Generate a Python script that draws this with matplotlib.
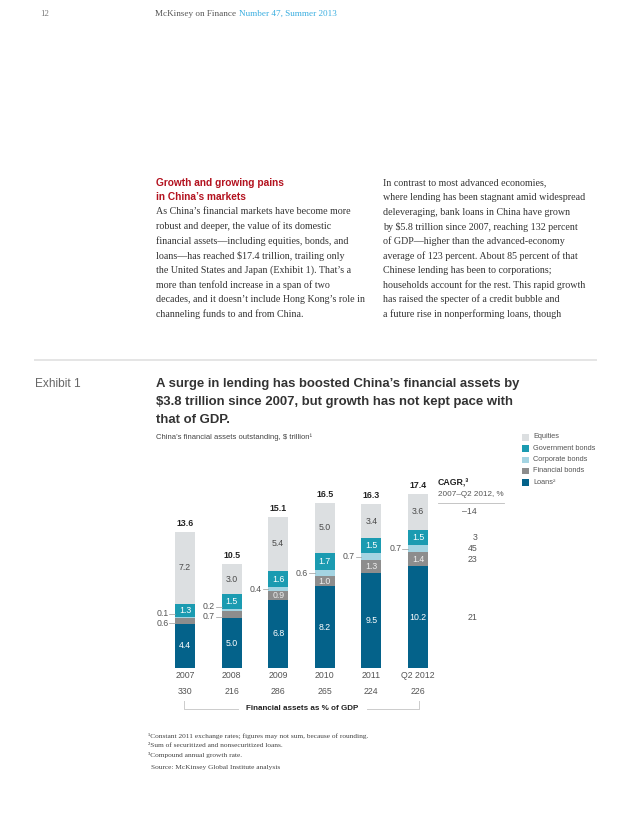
import matplotlib
matplotlib.use("Agg")
import matplotlib.pyplot as plt
from matplotlib.patches import Rectangle

# ---- data (from the exhibit) ----
years = ['2007', '2008', '2009', '2010', '2011', 'Q2 2012']
loans = [4.4, 5.0, 6.8, 8.2, 9.5, 10.2]
fin_bonds = [0.6, 0.7, 0.9, 1.0, 1.3, 1.4]
corp_bonds = [0.1, 0.2, 0.4, 0.6, 0.7, 0.7]
gov_bonds = [1.3, 1.5, 1.6, 1.7, 1.5, 1.5]
equities = [7.2, 3.0, 5.4, 5.0, 3.4, 3.6]
totals = [13.6, 10.5, 15.1, 16.5, 16.3, 17.4]
gdp_pct = [330, 216, 286, 265, 224, 226]
cagr = {'Equities': '–14', 'Government bonds': '3', 'Corporate bonds': '45',
        'Financial bonds': '23', 'Loans': '21'}

series_names = ['Loans', 'Financial bonds', 'Corporate bonds', 'Government bonds', 'Equities']
series_vals = [loans, fin_bonds, corp_bonds, gov_bonds, equities]
colors = {'Equities': '#dcdfe1', 'Government bonds': '#1b9bb1', 'Corporate bonds': '#a4d4e2',
          'Financial bonds': '#8d8d8d', 'Loans': '#04628a'}
txt_col = {'Equities': '#4a4a4a', 'Government bonds': 'white', 'Corporate bonds': '#4a4a4a',
           'Financial bonds': '#eeeeee', 'Loans': 'white'}

left_col = [
    "As China’s financial markets have become more",
    "robust and deeper, the value of its domestic",
    "financial assets—including equities, bonds, and",
    "loans—has reached $17.4 trillion, trailing only",
    "the United States and Japan (Exhibit 1). That’s a",
    "more than tenfold increase in a span of two",
    "decades, and it doesn’t include Hong Kong’s role in",
    "channeling funds to and from China.",
]
right_col = [
    "In contrast to most advanced economies,",
    "where lending has been stagnant amid widespread",
    "deleveraging, bank loans in China have grown",
    "by $5.8 trillion since 2007, reaching 132 percent",
    "of GDP—higher than the advanced-economy",
    "average of 123 percent. About 85 percent of that",
    "Chinese lending has been to corporations;",
    "households account for the rest. This rapid growth",
    "has raised the specter of a credit bubble and",
    "a future rise in nonperforming loans, though",
]
title_lines = [
    "A surge in lending has boosted China’s financial assets by",
    "$3.8 trillion since 2007, but growth has not kept pace with",
    "that of GDP.",
]
notes = [
    "¹Constant 2011 exchange rates; figures may not sum, because of rounding.",
    "²Sum of securitized and nonsecuritized loans.",
    "³Compound annual growth rate.",
]

SERIF = 'Liberation Serif'
SANS = 'Liberation Sans'
W, H = 638, 826

fig = plt.figure(figsize=(W / 100, H / 100), dpi=100)
fig.patch.set_facecolor('white')

# page layer in pixel coordinates
pg = fig.add_axes([0, 0, 1, 1])
pg.set_xlim(0, W)
pg.set_ylim(H, 0)
pg.axis('off')

# running header
pg.text(40, 14, "12", family=SERIF, fontsize=6.3, color='#777777', va='center')
pg.text(155, 14, "McKinsey on Finance", family=SERIF, fontsize=6.6, color='#555555', va='center')
pg.text(239, 14, "Number 47, Summer 2013", family=SERIF, fontsize=6.6, color='#3aaee0', va='center')

# article text
pg.text(156, 183, "Growth and growing pains", family=SANS, weight='bold', fontsize=7.3,
        color='#b3121f', va='center')
pg.text(156, 197.5, "in China’s markets", family=SANS, weight='bold', fontsize=7.3,
        color='#b3121f', va='center')
for k, line in enumerate(left_col):
    pg.text(156, 212 + 14.55 * k, line, family=SERIF, fontsize=7.2, color='#333333', va='center')
for k, line in enumerate(right_col):
    pg.text(383, 183 + 14.55 * k, line, family=SERIF, fontsize=7.2, color='#333333', va='center')

pg.plot([34, 597], [360, 360], color='#e3e3e3', lw=1.3, solid_capstyle='butt')

# exhibit heading
pg.text(35, 384, "Exhibit 1", family=SANS, fontsize=8.6, color='#666666', va='center')
for k, line in enumerate(title_lines):
    pg.text(156, 384 + 17.8 * k, line, family=SANS, weight='bold', fontsize=9.45,
            color='#333333', va='center')
pg.text(156, 437, "China’s financial assets outstanding, $ trillion¹", family=SANS,
        fontsize=5.5, color='#444444', va='center')

# legend
for k, name in enumerate(['Equities', 'Government bonds', 'Corporate bonds', 'Financial bonds', 'Loans']):
    yy = 437 + 11.3 * k
    pg.add_patch(Rectangle((522, yy - 3), 6.5, 6.5, color=colors[name], lw=0))
    pg.text(533, yy, name + ('²' if name == 'Loans' else ''), family=SANS, fontsize=5.3,
            color='#555555', va='center')

# bracket under the GDP row
pg.plot([184, 184, 238], [701, 709, 709], color='#cccccc', lw=0.7)
pg.plot([367, 419, 419], [709, 709, 701], color='#cccccc', lw=0.7)
pg.text(302, 709, "Financial assets as % of GDP", family=SANS, weight='bold', fontsize=5.8,
        color='#222222', ha='center', va='center')

# footnotes
for k, line in enumerate(notes):
    pg.text(148, 736 + 9.5 * k, line, family=SERIF, fontsize=5.3, color='#444444', va='center')
pg.text(151, 767, "Source: McKinsey Global Institute analysis", family=SERIF, fontsize=5.3,
        color='#444444', va='center')

# ---- bar chart ----
x0, step, base, ppu = 185.0, 46.6, 668.0, 10.0   # pixel anchors
ax = fig.add_axes([(x0 - step / 2) / W, (H - base) / H, 6 * step / W, 18 * ppu / H])
ax.set_xlim(-0.5, 5.5)
ax.set_ylim(0, 18)
ax.axis('off')

fs = 6.3
bw = 0.43
xs = list(range(len(years)))
bottoms = [0.0] * len(years)
for name, vals in zip(series_names, series_vals):
    ax.bar(xs, vals, bw, bottom=bottoms, color=colors[name], lw=0)
    for i, v in enumerate(vals):
        c = bottoms[i] + v / 2
        if v >= 0.8:
            ax.text(i, c, f"{v:.1f}", ha='center', va='center', family=SANS, fontsize=fs,
                    color=txt_col[name])
        else:
            both = corp_bonds[i] < 0.8 and fin_bonds[i] < 0.8
            ly = c
            if both:
                ly = c + 0.35 if name == 'Corporate bonds' else c - 0.2
            xe = i - bw / 2
            ax.plot([xe - 0.12, xe], [ly, ly], color='#999999', lw=0.5, clip_on=False)
            ax.text(xe - 0.14, ly, f"{v:.1f}", ha='right', va='center', family=SANS,
                    fontsize=fs, color='#555555')
    bottoms = [b + v for b, v in zip(bottoms, vals)]

for i in xs:
    ax.text(i, bottoms[i] + 0.85, f"{totals[i]:.1f}", ha='center', va='center', family=SANS,
            weight='bold', fontsize=fs, color='#222222')
    ax.text(i, -0.8, years[i], ha='center', va='center', family=SANS, fontsize=fs, color='#555555')
    ax.text(i, -2.4, str(gdp_pct[i]), ha='center', va='center', family=SANS, fontsize=fs,
            color='#555555')

# CAGR column
cx = 5.43
ax.text(cx, 18.5, "CAGR,³", family=SANS, weight='bold', fontsize=fs, color='#222222', va='center')
ax.text(cx, 17.4, "2007–Q2 2012, %", family=SANS, fontsize=5.9, color='#555555', va='center')
ax.plot([cx, 6.85], [16.5, 16.5], color='#bbbbbb', lw=0.6, clip_on=False)
last = len(years) - 1
b = 0.0
for name, vals in zip(series_names, series_vals):
    ax.text(6.27, b + vals[last] / 2, cagr[name], ha='right', va='center', family=SANS,
            fontsize=fs, color='#555555')
    b += vals[last]

fig.savefig('out.png', dpi=100, facecolor='white')
